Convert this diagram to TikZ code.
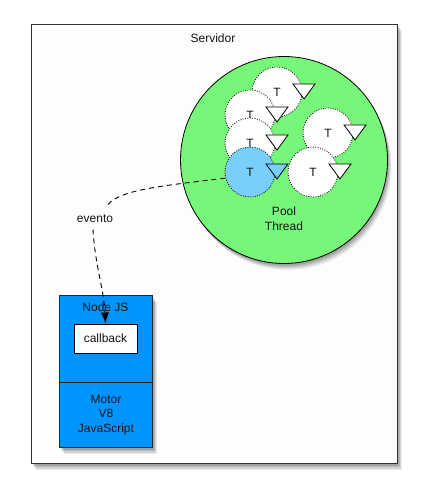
\documentclass[tikz,border=0pt]{standalone}
\usepackage{fontspec}
\setmainfont{Liberation Sans}
\usetikzlibrary{shadows,arrows.meta}
\definecolor{poolgreen}{RGB}{119,247,122}
\definecolor{jsblue}{RGB}{0,148,255}
\definecolor{thblue}{RGB}{121,207,251}
\definecolor{bgwhite}{RGB}{252,253,252}
\definecolor{inkdark}{RGB}{20,20,20}
\begin{document}
\begin{tikzpicture}[x=1pt,y=-1pt,
  font=\fontsize{12}{14.5}\selectfont, text=inkdark,
  myshadow/.style={
    drop shadow={shadow xshift=1pt,shadow yshift=-2pt,opacity=0.12,fill=black},
    drop shadow={shadow xshift=2pt,shadow yshift=-3.5pt,opacity=0.12,fill=black},
    drop shadow={shadow xshift=3pt,shadow yshift=-5pt,opacity=0.1,fill=black},
    drop shadow={shadow xshift=4pt,shadow yshift=-6.5pt,opacity=0.07,fill=black}},
  thread/.style={circle, draw=inkdark, dash pattern=on 1pt off 1.4pt, line width=0.8pt, fill=white, minimum size=50, inner sep=0},
  tristyle/.style={draw=black, line width=0.8pt, fill=white, solid},
  jsbox/.style={draw=black!85, line width=1pt, fill=jsblue, inner sep=0, myshadow},
  conn/.style={draw=black, line width=0.9pt, dash pattern=on 5pt off 4pt}
]
\useasboundingbox (0,0) rectangle (427,497);
\fill[white] (0,0) rectangle (427,497);

% server box
\node[draw=black!80, line width=1pt, fill=bgwhite, minimum width=366, minimum height=439, inner sep=0, anchor=north west, myshadow] (srv) at (31,24) {};
\node (srvlabel) at (213,38) {Servidor};

% pool
\node[circle, draw=black, line width=0.8pt, fill=poolgreen, minimum size=207, inner sep=0, myshadow] (pool) at (284,160) {};
\node[align=center] (poollabel) at (284,218.5) {Pool\\Thread};

% threads
\foreach \n/\cx/\cy/\col in {t1/277/92/white, t2/250/115/white, t3/250/143/white, t4/250/172/thblue, t5/328/133/white, t6/313/172/white}{
  \node[thread, fill=\col] (\n) at (\cx,\cy) {T};
  \draw[tristyle, fill=\col] ([shift={(16,-8)}]\n.center) -- ([shift={(38,-8)}]\n.center) -- ([shift={(27,7)}]\n.center) -- cycle;
}

% Node JS and motor
\node[jsbox, minimum width=93, minimum height=87, anchor=north west] (nodejs) at (59,295) {};
\node (nodejslabel) at (105.5,307) {Node JS};
\node[draw=black, line width=0.9pt, fill=white, minimum width=63, minimum height=29, inner sep=0] (callback) at (105.5,338.5) {callback};
\node[jsbox, minimum width=93, minimum height=65, anchor=north west, align=center] (motor) at (59,382) {Motor\\V8\\JavaScript};

% event connector
\node (evento) at (95,219) {evento};
\draw[conn] (t4.194) .. controls (160,186) and (120,190) .. ([xshift=13pt,yshift=7pt]evento.north);
\draw[conn, -{Latex[length=11pt,width=8pt]}] ([xshift=-2pt,yshift=-3pt]evento.south) .. controls (95,265) and (104,290) .. (callback.north);
\end{tikzpicture}
\end{document}
